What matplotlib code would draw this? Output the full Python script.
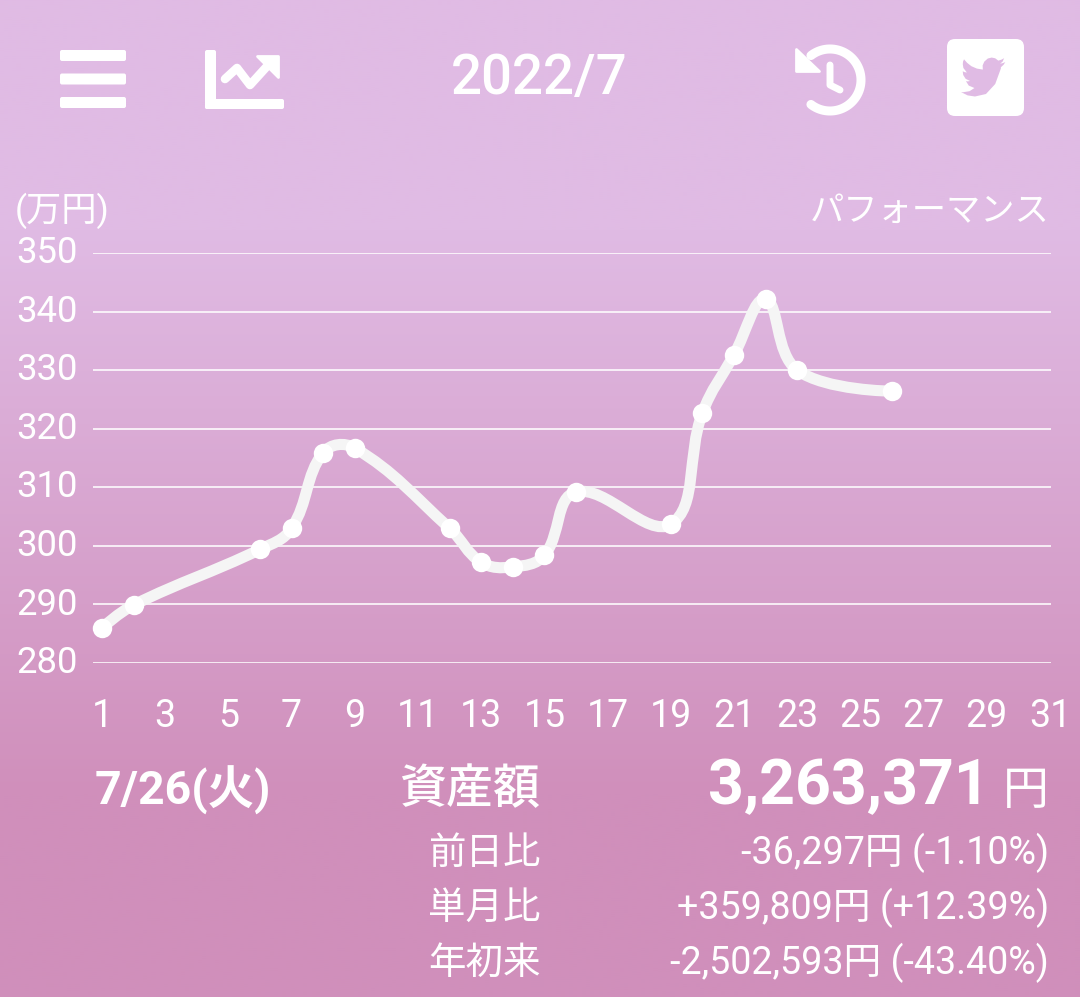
import numpy as np
import matplotlib
matplotlib.use("Agg")
import matplotlib.pyplot as plt
from matplotlib.path import Path
from matplotlib.patches import PathPatch, FancyBboxPatch, Polygon
from matplotlib.colors import LinearSegmentedColormap
from matplotlib.transforms import ScaledTranslation

FONT = ['Roboto', 'Noto Sans CJK JP', 'DejaVu Sans']
plt.rcParams['font.family'] = FONT

days = [1, 2, 6, 7, 8, 9, 12, 13, 14, 15, 16, 19, 20, 21, 22, 23, 26]
assets = [286.0, 289.9, 299.4, 303.0, 315.9, 316.7, 303.0, 297.2, 296.4, 298.4,
          309.2, 303.7, 322.7, 332.6, 342.1, 330.0, 326.4]
x_ticks = list(range(1, 32, 2))
y_ticks = list(range(280, 351, 10))
title = "2022/7"
unit_label = "(万円)"
perf_label = "パフォーマンス"
date_label = "7/26(火)"
asset_label = "資産額"
asset_value = "3,263,371"
yen = "円"
row_labels = ["前日比", "単月比", "年初来"]
row_values = ["-36,297円 (-1.10%)", "+359,809円 (+12.39%)", "-2,502,593円 (-43.40%)"]

W, H = 1080, 997
fig = plt.figure(figsize=(W / 100, H / 100), dpi=100)

# pixel-space overlay: background, icons and page text
bg = fig.add_axes([0, 0, 1, 1])
bg.set_xlim(0, W)
bg.set_ylim(H, 0)
bg.axis('off')
cmap = LinearSegmentedColormap.from_list('bg', [(0, '#E0BBE4'), (0.23, '#E0BBE4'), (0.80, '#D08FBB'), (1, '#D08FBB')])
bg.imshow(np.linspace(0, 1, 500)[:, None], cmap=cmap, aspect='auto', extent=[0, W, H, 0], zorder=0)
bg.set_xlim(0, W)
bg.set_ylim(H, 0)

W_C = 'white'
# hamburger
for y0 in (50, 73.5, 97):
    bg.add_patch(FancyBboxPatch((62, y0 + 2), 62, 7, boxstyle='round,pad=2', fc=W_C, ec='none', zorder=3))
# chart icon
bg.add_patch(FancyBboxPatch((207, 52), 7, 55, boxstyle='round,pad=2', fc=W_C, ec='none', zorder=3))
bg.add_patch(FancyBboxPatch((207, 101), 75, 6, boxstyle='round,pad=2', fc=W_C, ec='none', zorder=3))
bg.plot([225, 237, 250, 270], [79, 68, 85, 63], color=W_C, lw=6.2, solid_joinstyle='round', solid_capstyle='round', zorder=3)
bg.add_patch(Polygon([(257, 56), (278, 56), (278, 77)], closed=True, fc=W_C, ec=W_C, lw=2, joinstyle='round', zorder=3))
# history icon
th = np.radians(np.linspace(-128, 128, 80))
bg.plot(830 + 31 * np.cos(th), 80 + 31 * np.sin(th), color=W_C, lw=6.5, solid_capstyle='round', zorder=3)
bg.add_patch(Polygon([(796, 49), (796, 71), (819, 71)], closed=True, fc=W_C, ec=W_C, lw=2, joinstyle='round', zorder=3))
bg.plot([830, 830, 840], [65, 85, 90], color=W_C, lw=5, solid_joinstyle='round', solid_capstyle='round', zorder=3)
# twitter icon
bg.add_patch(FancyBboxPatch((955, 47), 61, 61, boxstyle='round,pad=8', fc=W_C, ec='none', zorder=3))
bird = np.array([(23.95, 4.57), (22.6, 5.05), (21.13, 5.35), (22.5, 4.3), (23.29, 2.62), (21.8, 3.35), (20.16, 3.81),
                 (18.5, 2.65), (16.6, 2.28), (14.5, 2.75), (12.6, 4.3), (11.7, 6.2), (11.78, 8.29), (8.6, 7.8), (5.6, 6.6),
                 (3.3, 4.9), (1.64, 3.16), (1.1, 4.3), (0.97, 5.64), (1.3, 7.5), (3.16, 9.73), (2.0, 9.6), (0.93, 9.12),
                 (1.2, 11.0), (2.5, 12.9), (4.88, 14.0), (3.7, 14.2), (2.67, 14.09), (4.2, 16.3), (7.27, 17.51),
                 (4.6, 19.1), (1.17, 19.61), (0, 19.54), (3.6, 21.2), (7.56, 21.75), (13.5, 20.5), (18.5, 15.5),
                 (21.55, 7.77), (21.54, 7.14), (23.0, 5.9)])
bg.add_patch(Polygon(np.c_[961 + bird[:, 0] * 1.85, 53 + bird[:, 1] * 2.0], closed=True, fc='#E0BBE4', ec='none', zorder=4))

def txt(x, y, s, size, ha='left', weight='normal'):
    bg.text(x, y, s, fontsize=size, ha=ha, va='baseline', color='white', weight=weight, family=FONT, zorder=5)

txt(539, 94, title, 39.3, ha='center', weight='medium')
txt(15, 221, unit_label, 25.4)
txt(1050, 221, perf_label, 24.7, ha='right')
txt(95, 805, date_label, 33.5, weight='bold')
txt(540, 803, asset_label, 33.8, ha='right', weight='medium')
txt(990, 804, asset_value, 45, ha='right', weight='bold')
txt(1049, 804, yen, 33, ha='right')
for lab, val, yb in zip(row_labels, row_values, (864, 919, 974)):
    txt(541, yb, lab, 27, ha='right')
    txt(1049, yb, val, 27.1, ha='right')

# chart
left, right, top, bottom = 93, 1051, 253, 663
ax = fig.add_axes([left / W, 1 - bottom / H, (right - left) / W, (bottom - top) / H])
ax.patch.set_alpha(0)
ax.set_xlim(1 - 9 / 31.6, 31 + 1 / 31.6)
ax.set_ylim(280, 350)
ax.set_xticks(x_ticks)
ax.set_yticks(y_ticks)
ax.tick_params(axis='x', length=0, colors='white', labelsize=27, pad=25)
ax.tick_params(axis='y', length=0, colors='white', labelsize=26.3, pad=11)
ax.grid(axis='y', color='white', lw=1.2, alpha=0.95)
ax.grid(axis='x', visible=False)
ax.set_axisbelow(True)
for s in ax.spines.values():
    s.set_visible(False)
up = ScaledTranslation(0, 2.8 / 72, fig.dpi_scale_trans)
for lab in ax.get_yticklabels():
    lab.set_transform(lab.get_transform() + up)

# Chart.js-style bezier smoothing (tension 0.4), computed in display space
fig.canvas.draw()
pts = ax.transData.transform(np.c_[days, assets])
t = 0.4
n = len(pts)
prev_c, next_c = pts.copy(), pts.copy()
for i in range(1, n - 1):
    d01 = np.linalg.norm(pts[i] - pts[i - 1])
    d12 = np.linalg.norm(pts[i + 1] - pts[i])
    s = d01 / (d01 + d12)
    v = pts[i + 1] - pts[i - 1]
    prev_c[i] = pts[i] - t * s * v
    next_c[i] = pts[i] + t * (1 - s) * v
verts = [pts[0]]
codes = [Path.MOVETO]
for i in range(n - 1):
    verts += [next_c[i], prev_c[i + 1], pts[i + 1]]
    codes += [Path.CURVE4] * 3
verts = ax.transData.inverted().transform(np.array(verts))
ax.add_patch(PathPatch(Path(verts, codes), fc='none', ec='#F5F5F5', lw=8, capstyle='round', clip_on=False, zorder=3))
ax.plot(days, assets, ls='none', marker='o', ms=14, mfc='white', mec='none', clip_on=False, zorder=4)

fig.savefig('out.png', dpi=100)
